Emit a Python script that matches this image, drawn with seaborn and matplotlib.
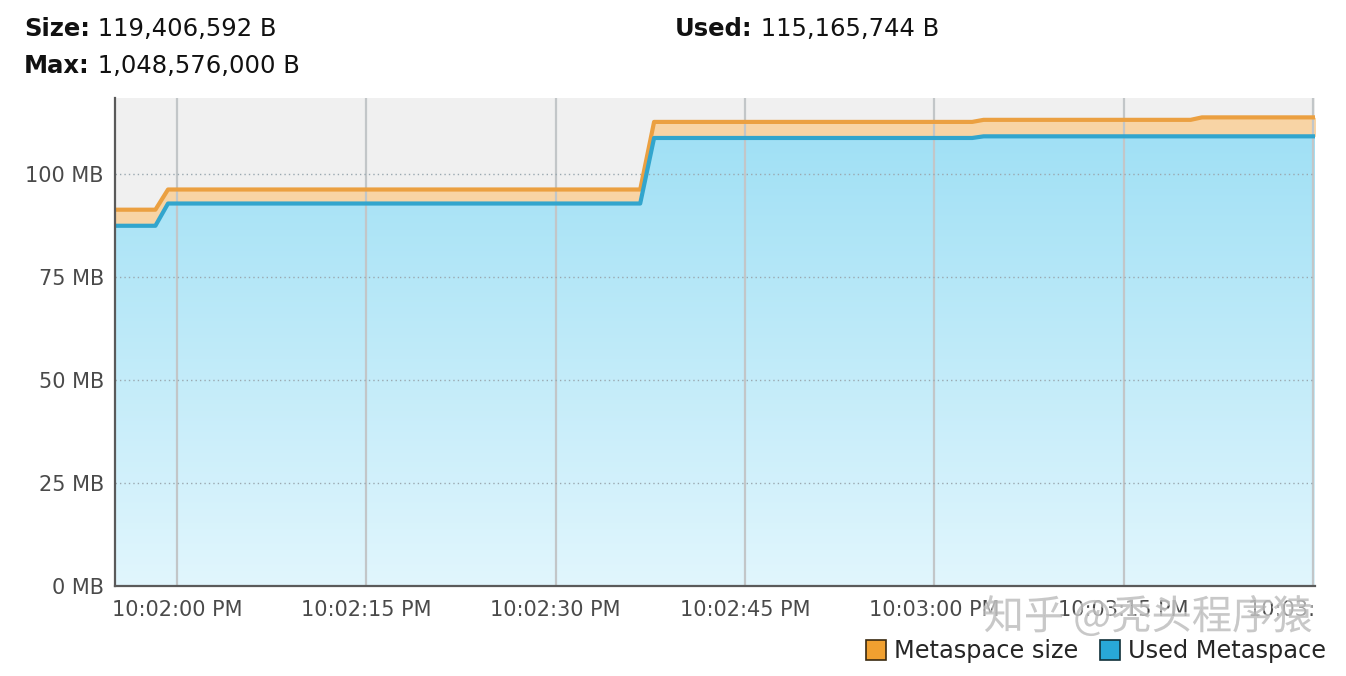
import numpy as np
import pandas as pd
import matplotlib
matplotlib.use("Agg")
import matplotlib.pyplot as plt
import seaborn as sns
from matplotlib.colors import LinearSegmentedColormap
from matplotlib.lines import Line2D
from matplotlib.transforms import Bbox, TransformedBbox
import matplotlib.patheffects as pe

# ---- data (seconds relative to 10:02:00 PM, values in MB) ----
time_s = [-4.9, -1.7, -0.7, 36.7, 37.8, 63.0, 63.9, 80.3, 81.2, 90.2]
size_mb = [91.3, 91.3, 96.2, 96.2, 112.6, 112.6, 113.1, 113.1, 113.7, 113.7]
used_mb = [87.4, 87.4, 92.8, 92.8, 108.7, 108.7, 109.1, 109.1, 109.1, 109.1]

y_ticks_mb = [0, 25, 50, 75, 100]
y_tick_labels = ["0 MB", "25 MB", "50 MB", "75 MB", "100 MB"]
x_ticks_s = [0, 15, 30, 45, 60, 75, 90]
x_tick_labels = ["10:02:00 PM", "10:02:15 PM", "10:02:30 PM", "10:02:45 PM",
                 "10:03:00 PM", "10:03:15 PM", "10:03:30 PM"]

header_size = "119,406,592 B"
header_used = "115,165,744 B"
header_max = "1,048,576,000 B"
series_names = ["Metaspace size", "Used Metaspace"]
watermark = "知乎 @秃头程序猿"

# ---- styling ----
sns.set_theme(style="white")
plt.rcParams['font.family'] = ['DejaVu Sans']

W, H = 1346, 676
fig = plt.figure(figsize=(W / 100, H / 100), dpi=100)
fig.patch.set_facecolor("white")
ax = fig.add_axes([115 / W, 90 / H, 1200 / W, 488 / H])
ax.set_facecolor("#f0f0f0")

xmin, xmax = -4.9, 90.15
ymax = 118.4

orange_line = "#eba041"
orange_fill = "#f8d4a5"
blue_line = "#32a5cd"

# orange band between used and size
ax.fill_between(time_s, used_mb, size_mb, color=orange_fill, lw=0, zorder=1)

# blue gradient area under used
poly = ax.fill_between(time_s, 0, used_mb, color="none", lw=0, zorder=1)
cmap = LinearSegmentedColormap.from_list("bl", [(225/255, 246/255, 253/255),
                                                (160/255, 224/255, 245/255)])
grad = np.linspace(0, 1, 256).reshape(-1, 1)
im = ax.imshow(grad, extent=[xmin, xmax, 0, 110], origin="lower",
               aspect="auto", cmap=cmap, zorder=1, interpolation="bicubic")
im.set_clip_path(poly.get_paths()[0], transform=ax.transData)

# lines
df = pd.DataFrame({
    "t": time_s * 2,
    "mb": size_mb + used_mb,
    "series": [series_names[0]] * len(time_s) + [series_names[1]] * len(time_s),
})
sns.lineplot(data=df, x="t", y="mb", hue="series",
             palette={series_names[0]: orange_line, series_names[1]: blue_line},
             linewidth=3.0, legend=False, ax=ax, zorder=4, sort=False,
             estimator=None)

ax.set_xlim(xmin, xmax)
ax.set_ylim(0, ymax)
ax.set_xlabel("")
ax.set_ylabel("")
ax.set_xticks(x_ticks_s)
ax.set_xticklabels(x_tick_labels)
ax.set_yticks(y_ticks_mb)
ax.set_yticklabels(y_tick_labels)

# grids
ax.set_axisbelow(False)
ax.xaxis.grid(True, color="#c2c6c8", linewidth=1.6, linestyle="-")
ax.yaxis.grid(True, color="#9aa8b0", linewidth=1.0, linestyle=(0, (1, 2.2)))

for s in ["top", "right"]:
    ax.spines[s].set_visible(False)
for s in ["left", "bottom"]:
    ax.spines[s].set_color("#5a5a5a")
    ax.spines[s].set_linewidth(1.6)
    ax.spines[s].set_zorder(5)

ax.tick_params(axis="both", direction="out", length=5, width=1.4,
               color="#5a5a5a", labelcolor="#4a4a4a", labelsize=15)
ax.tick_params(axis="y", pad=3)
ax.tick_params(axis="x", pad=5)

clipbox = TransformedBbox(Bbox([[0, 0], [1316 / W, 1]]), fig.transFigure)
for lab in ax.get_xticklabels():
    lab.set_clip_on(True)
    lab.set_clip_box(clipbox)

# header texts
def header(x, y, bold, value):
    t = fig.text(x / W, 1 - y / H, bold, fontsize=17.5, weight="bold",
                 color="#111111", va="baseline", ha="left")
    ax.annotate(" " + value, xy=(1, 0), xycoords=t, va="bottom", ha="left",
                fontsize=17.5, color="#111111", annotation_clip=False)

header(24, 36, "Size:", header_size)
header(675, 36, "Used:", header_used)
header(24, 73, "Max:", header_max)

# legend
handles = [Line2D([], [], marker="s", linestyle="none", markersize=14,
                  markerfacecolor="#f0a030", markeredgecolor="#3a2a10",
                  markeredgewidth=1.2),
           Line2D([], [], marker="s", linestyle="none", markersize=14,
                  markerfacecolor="#28a8d8", markeredgecolor="#10303a",
                  markeredgewidth=1.2)]
fig.legend(handles, series_names, loc="lower right",
           bbox_to_anchor=(1326 / W, 1 - 663 / H), ncol=2, frameon=False,
           fontsize=17.3, handlelength=0.8, handletextpad=0.35,
           columnspacing=0.9, borderpad=0, borderaxespad=0)

# watermark
fig.text(1148 / W, 1 - 617 / H, watermark, fontsize=29,
         family=["Noto Sans CJK SC", "DejaVu Sans"], color="#a8a8a8",
         alpha=0.5, ha="center", va="center",
         path_effects=[pe.withStroke(linewidth=2.5, foreground="white")])

fig.savefig("out.png", dpi=100)
